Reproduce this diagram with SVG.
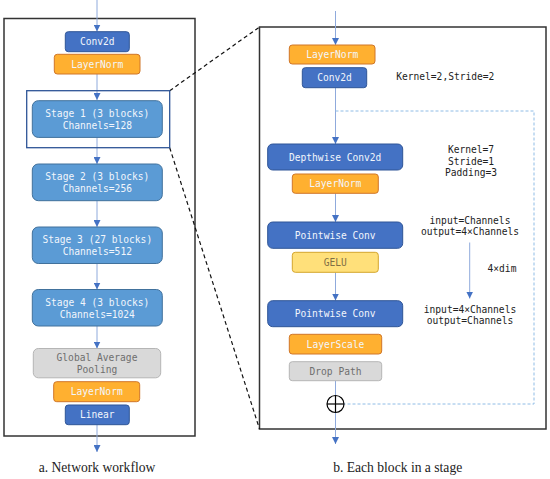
<svg xmlns="http://www.w3.org/2000/svg" width="550" height="479" viewBox="0 0 550 479">
<style>
.panel{fill:#fff;stroke:#333;stroke-width:1.5}
.dk{fill:#4472C4;stroke:#2F5597;stroke-width:1}
.st{fill:#5B9BD5;stroke:#41719C;stroke-width:1}
.or{fill:#FFB030;stroke:#D07628;stroke-width:1}
.gy{fill:#D9D9D9;stroke:#B5B5B5;stroke-width:1}
.ye{fill:#FFE07A;stroke:#D4A52C;stroke-width:1}
.t{font-family:"DejaVu Sans Mono","Liberation Mono",monospace;font-size:9.6px;text-anchor:middle;dominant-baseline:central}
.w{fill:#F2F6FC}
.g{fill:#6E6E6E}
.yt{fill:#7F6F45}
.k{fill:#222}
.cap{font-family:"Liberation Serif","Times New Roman",serif;font-size:13.6px;text-anchor:middle;fill:#222}
.ln{stroke:#8FAADC;stroke-width:1;fill:none}
.skip{stroke:#8FBCE6;stroke-width:1;fill:none;stroke-dasharray:3,2}
.zoom{stroke:#111;stroke-width:1.2;fill:none;stroke-dasharray:4,3}
</style>
<defs>
<marker id="ah" viewBox="0 0 8 8" refX="8" refY="4" markerWidth="7" markerHeight="7" markerUnits="userSpaceOnUse" orient="auto">
<path d="M0,0 L8,4 L0,8 z" fill="#4472C4"/>
</marker>
</defs>
<rect width="550" height="479" fill="#fff"/>
<rect class="panel" x="4" y="18.5" width="191" height="417.5"/>
<rect class="panel" x="259.5" y="27" width="286.5" height="402"/>
<g id="zoomlines">
<line class="zoom" x1="169.7" y1="90.7" x2="259.5" y2="27"/>
<line class="zoom" x1="169.7" y1="147.7" x2="259.5" y2="429"/>
</g>
<g id="connectors">
<line class="ln" x1="97" y1="0" x2="97" y2="31.5" marker-end="url(#ah)"/>
<line class="ln" x1="97" y1="74" x2="97" y2="100" marker-end="url(#ah)"/>
<line class="ln" x1="97" y1="137.5" x2="97" y2="164" marker-end="url(#ah)"/>
<line class="ln" x1="97" y1="200.5" x2="97" y2="227" marker-end="url(#ah)"/>
<line class="ln" x1="97" y1="263.5" x2="97" y2="289.5" marker-end="url(#ah)"/>
<line class="ln" x1="97" y1="326" x2="97" y2="348.5" marker-end="url(#ah)"/>
<line class="ln" x1="97" y1="424.5" x2="97" y2="452" marker-end="url(#ah)"/>
<line class="ln" x1="335.5" y1="11" x2="335.5" y2="45" marker-end="url(#ah)"/>
<line class="ln" x1="335.5" y1="87.5" x2="335.5" y2="144" marker-end="url(#ah)"/>
<line class="ln" x1="335.5" y1="193.5" x2="335.5" y2="222" marker-end="url(#ah)"/>
<line class="ln" x1="335.5" y1="272.5" x2="335.5" y2="300.5" marker-end="url(#ah)"/>
<line class="ln" x1="335.5" y1="380.5" x2="335.5" y2="395.5"/>
<line class="ln" x1="335.5" y1="412.5" x2="335.5" y2="444" marker-end="url(#ah)"/>
<line class="ln" x1="469.7" y1="242.5" x2="469.7" y2="298.5" marker-end="url(#ah)"/>
<path class="skip" d="M335.5,111 H534 V404 H344"/>
</g>
<rect x="26.7" y="90.7" width="143" height="57" fill="none" stroke="#2F5597" stroke-width="1.3"/>
<g id="n-conv2d-a"><rect class="dk" x="65.3" y="31.7" width="64" height="20" rx="3"/><text class="t w" x="97.3" y="41.7">Conv2d</text></g>
<g id="n-ln-a1"><rect class="or" x="54.3" y="54.3" width="85.7" height="19.7" rx="3"/><text class="t w" x="97.2" y="64.2">LayerNorm</text></g>
<g id="n-stage1"><rect class="st" x="32.3" y="100.7" width="130" height="36.7" rx="6"/><text class="t w" x="97.3" y="113.3">Stage 1 (3 blocks)</text><text class="t w" x="97.3" y="125.5">Channels=128</text></g>
<g id="n-stage2"><rect class="st" x="32.3" y="164" width="130" height="36.7" rx="6"/><text class="t w" x="97.3" y="176.5">Stage 2 (3 blocks)</text><text class="t w" x="97.3" y="188.7">Channels=256</text></g>
<g id="n-stage3"><rect class="st" x="32.3" y="227" width="130" height="36.5" rx="6"/><text class="t w" x="97.3" y="239.5">Stage 3 (27 blocks)</text><text class="t w" x="97.3" y="251.7">Channels=512</text></g>
<g id="n-stage4"><rect class="st" x="32.3" y="289.5" width="130" height="36.5" rx="6"/><text class="t w" x="97.3" y="302">Stage 4 (3 blocks)</text><text class="t w" x="97.3" y="314">Channels=1024</text></g>
<g id="n-gap"><rect class="gy" x="33.3" y="348.5" width="127.4" height="29.3" rx="5"/><text class="t g" x="97" y="357.5">Global Average</text><text class="t g" x="97" y="369.5">Pooling</text></g>
<g id="n-ln-a2"><rect class="or" x="53.7" y="381.7" width="86" height="20" rx="3"/><text class="t w" x="96.7" y="391.7">LayerNorm</text></g>
<g id="n-linear"><rect class="dk" x="65.3" y="405" width="64" height="19.7" rx="3"/><text class="t w" x="97.3" y="414.8">Linear</text></g>
<g id="n-ln-b1"><rect class="or" x="289.3" y="45" width="85.7" height="19" rx="3"/><text class="t w" x="332.2" y="54.5">LayerNorm</text></g>
<g id="n-conv2d-b"><rect class="dk" x="302.3" y="67.7" width="64.4" height="20" rx="3"/><text class="t w" x="334.5" y="77.7">Conv2d</text></g>
<text class="t k" x="445.3" y="76.5">Kernel=2,Stride=2</text>
<g id="n-dwconv"><rect class="dk" x="267.7" y="144" width="135" height="26" rx="5"/><text class="t w" x="335.2" y="157">Depthwise Conv2d</text></g>
<text class="t k" x="471" y="149.7">Kernel=7</text>
<text class="t k" x="471" y="161.3">Stride=1</text>
<text class="t k" x="471" y="172.7">Padding=3</text>
<g id="n-ln-b2"><rect class="or" x="292.3" y="174" width="86" height="19.3" rx="3"/><text class="t w" x="335.3" y="183.7">LayerNorm</text></g>
<g id="n-pw1"><rect class="dk" x="267.7" y="222" width="135" height="26.3" rx="5"/><text class="t w" x="335.2" y="235.2">Pointwise Conv</text></g>
<text class="t k" x="470" y="220">input=Channels</text>
<text class="t k" x="470" y="231.7">output=4×Channels</text>
<g id="n-gelu"><rect class="ye" x="292.3" y="252.3" width="86" height="20" rx="3"/><text class="t yt" x="335.3" y="262.3">GELU</text></g>
<text class="t k" x="502" y="268.3">4×dim</text>
<g id="n-pw2"><rect class="dk" x="267.7" y="300.7" width="135" height="26" rx="5"/><text class="t w" x="335.2" y="313.7">Pointwise Conv</text></g>
<text class="t k" x="470" y="309">input=4×Channels</text>
<text class="t k" x="470" y="320.3">output=Channels</text>
<g id="n-layerscale"><rect class="or" x="289.3" y="334.3" width="92.4" height="19.7" rx="3"/><text class="t w" x="335.5" y="344.2">LayerScale</text></g>
<g id="n-droppath"><rect class="gy" x="289.3" y="361.7" width="92.4" height="19" rx="3"/><text class="t g" x="335.5" y="371.2">Drop Path</text></g>
<g id="n-add"><circle cx="335.5" cy="404" r="8.5" fill="#fff" stroke="#000" stroke-width="1.2"/><line x1="327" y1="404" x2="344" y2="404" stroke="#000" stroke-width="1.2"/><line x1="335.5" y1="395.5" x2="335.5" y2="412.5" stroke="#000" stroke-width="1.2"/></g>
<text class="cap" x="97" y="472">a. Network workflow</text>
<text class="cap" x="397.7" y="472">b. Each block in a stage</text>
</svg>
